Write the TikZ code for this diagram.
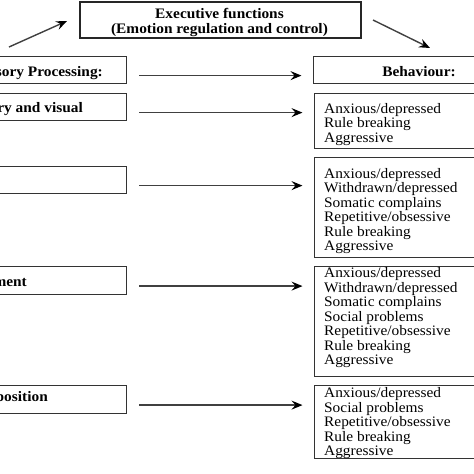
\documentclass[tikz,border=0pt]{standalone}
\usepackage{fontspec}
\setmainfont{Liberation Serif}[FakeStretch=1.06]
\usetikzlibrary{arrows.meta}
\begin{document}
\begin{tikzpicture}[x=1pt,y=-1pt,
  box/.style={draw=black!80, line width=1.2pt, inner sep=0pt, anchor=north west},
  topbox/.style={box, line width=2pt, draw=black!85},
  lbl/.style={font=\fontsize{14.5}{14.5}\selectfont\bfseries, inner sep=0pt},
  lst/.style={font=\fontsize{14.5}{14.5}\selectfont, align=left, inner sep=0pt, anchor=north west},
  arr/.style={draw=black!75, line width=1.4pt, -{Stealth[length=11pt,width=9pt,inset=4pt,black]}}]
\useasboundingbox (0,0) rectangle (474,474);
\clip (0,0) rectangle (474,474);
% top box
\node[topbox, minimum width=281pt, minimum height=36pt] (top) at (79,1) {};
\node[lbl, align=center] (toptext) at (219.5,22.5) {Executive functions\\(Emotion regulation and control)};
% left boxes
\node[box, minimum width=136pt, minimum height=27pt] (l0) at (-10,56) {};
\node[box, minimum width=136pt, minimum height=27pt] (l1) at (-10,93) {};
\node[box, minimum width=136pt, minimum height=27pt] (l2) at (-10,166) {};
\node[box, minimum width=136pt, minimum height=28pt] (l3) at (-10,266) {};
\node[box, minimum width=136pt, minimum height=28pt] (l4) at (-10,385) {};
\node[lbl, anchor=base east] (t0) at (103,76) {sory Processing:};
\node[lbl, anchor=base east] (t1) at (83,112) {ry and visual};
\node[lbl, anchor=base east] (t3) at (27,286) {ment};
\node[lbl, anchor=base east] (t4) at (48,401) {position};
% right boxes
\node[box, minimum width=170pt, minimum height=27pt] (r0) at (313,56) {};
\node[box, minimum width=170pt, minimum height=55pt] (r1) at (314,93) {};
\node[box, minimum width=170pt, minimum height=100pt] (r2) at (314,157) {};
\node[box, minimum width=170pt, minimum height=110pt] (r3) at (314,266) {};
\node[box, minimum width=170pt, minimum height=73pt] (r4) at (314,385) {};
\node[lbl, anchor=base] (tb) at (419,76) {Behaviour:};
\node[lst] (s1) at (324,103) {Anxious/depressed\\Rule breaking\\Aggressive};
\node[lst] (s2) at (324,168) {Anxious/depressed\\Withdrawn/depressed\\Somatic complains\\Repetitive/obsessive\\Rule breaking\\Aggressive};
\node[lst] (s3) at (324,267.5) {Anxious/depressed\\Withdrawn/depressed\\Somatic complains\\Social problems\\Repetitive/obsessive\\Rule breaking\\Aggressive};
\node[lst] (s4) at (324,387.5) {Anxious/depressed\\Social problems\\Repetitive/obsessive\\Rule breaking\\Aggressive};
% horizontal arrows
\foreach \i in {0,1,2,3,4} {
  \coordinate (a\i) at ([shift={(12,5.5)}]l\i.east);
  \draw[arr, shorten >=11.5pt] (a\i) -- (a\i -| r\i.west);
}
% diagonal arrows
\coordinate (d1s) at (9,47);
\coordinate (d1e) at (67,21);
\coordinate (d2s) at (373,20);
\coordinate (d2e) at (430,48);
\draw[arr] (d1s) -- (d1e);
\draw[arr] (d2s) -- (d2e);
\end{tikzpicture}
\end{document}
